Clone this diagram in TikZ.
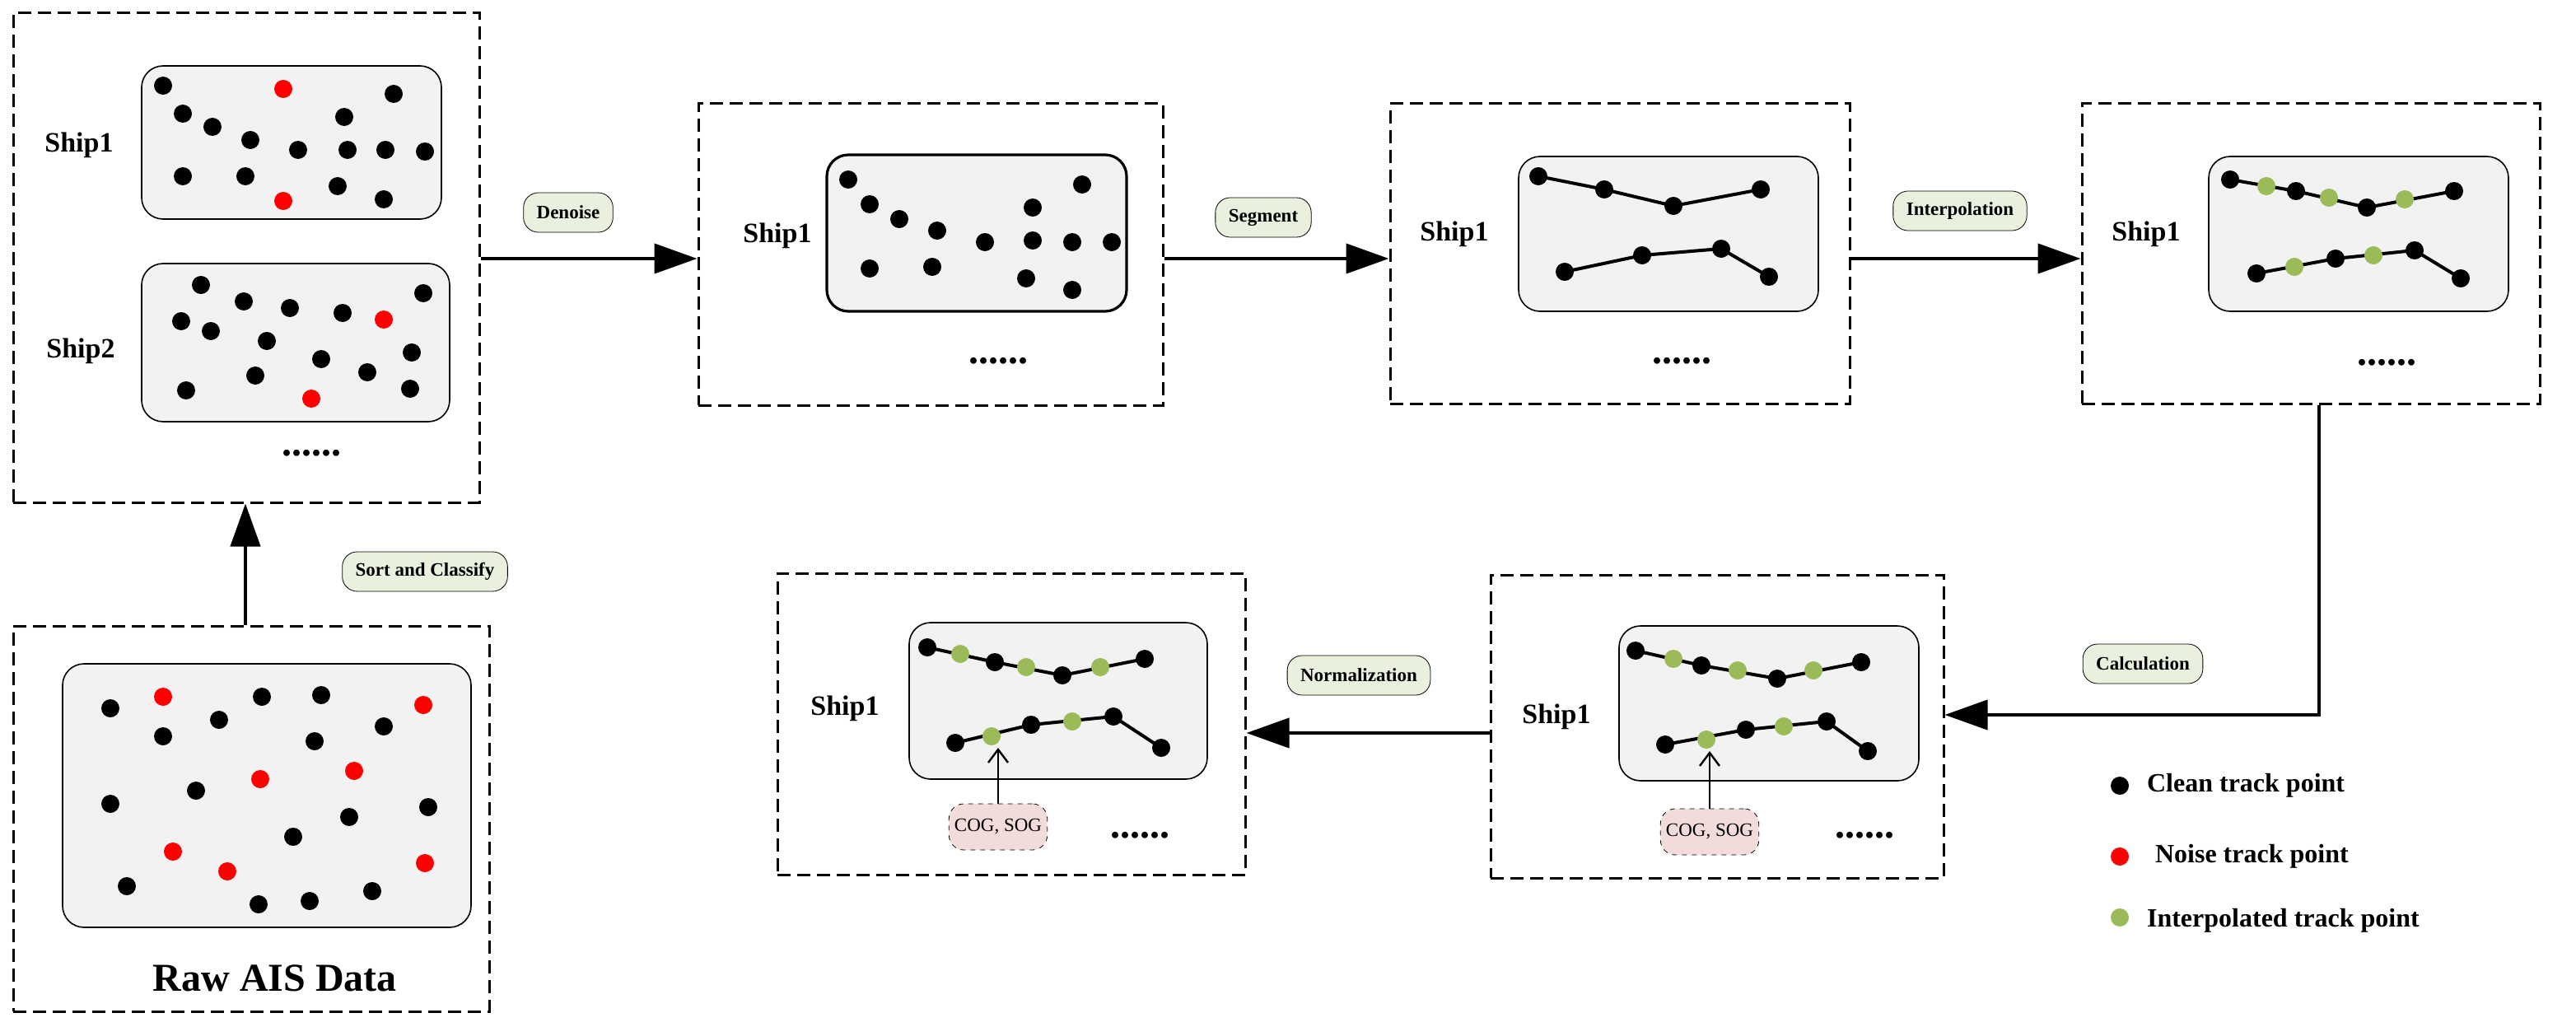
\documentclass[tikz,border=0pt]{standalone}
\usepackage{fontspec}
\setmainfont{Liberation Serif}
\usetikzlibrary{arrows.meta}
\definecolor{lblg}{RGB}{233,240,222}
\definecolor{inner}{RGB}{242,242,242}
\definecolor{gpt}{RGB}{155,187,89}
\definecolor{pinkf}{RGB}{242,220,219}
\begin{document}
\begin{tikzpicture}[x=1pt,y=-1pt,
 dbox/.style={draw,line width=1.5pt,dash pattern=on 8pt off 4pt,minimum width=#1},
 ibox/.style={draw,fill=inner,rounded corners=13pt,line width=0.8pt},
 lbl/.style={draw,fill=lblg,rounded corners=9pt,font=\bfseries\fontsize{11.5}{13}\selectfont,inner xsep=8pt,minimum height=24pt},
 ship/.style={font=\bfseries\fontsize{17}{19}\selectfont,inner sep=0pt},
 bp/.style={fill=black,circle,inner sep=0,minimum size=11pt},
 rp/.style={fill=red,circle,inner sep=0,minimum size=11pt},
 gp/.style={fill=gpt,circle,inner sep=0,minimum size=11pt},
 big/.style={line width=2pt,-{Triangle[length=26pt,width=18pt]}},
 small/.style={line width=1.2pt,-{Straight Barb[length=8pt,width=12pt]}},
 dots/.style={font=\bfseries\fontsize{24}{24}\selectfont},
 cog/.style={draw,fill=pinkf,dashed,rounded corners=9pt,minimum width=56pt,minimum height=28pt,font=\fontsize{11.5}{13}\selectfont},
 leg/.style={anchor=west,font=\bfseries\fontsize{16}{18}\selectfont},
 trk/.style={line width=2pt}]
\fill[white] (0,0) rectangle (1564,623.5);
% Box A
\node[dbox=283pt,minimum height=297pt] (A) at (149.5,156.5) {};
\node[ibox,minimum width=182pt,minimum height=93pt] (A1) at (177,86.5) {};
\node[ibox,minimum width=187pt,minimum height=96pt] (A2) at (179.5,208) {};
\node[ship] (sA1) at (48,88) {Ship1};
\node[ship] (sA2) at (49,213) {Ship2};
\node[dots] (dA) at (189,275) {......};
\foreach \x/\y in {99/52,239/57,111/69,129/77,152/85,209/71,181/91,211/91,234/91,258/92,111/107,149/107,205/113,233/121,
 122/173,148/183,176/187,208/190,257/178,110/195,128/201,162/207,195/218,250/214,155/228,223/226,113/237,249/236}
 \node[bp] at (\x,\y) {};
\foreach \x/\y in {172/54,172/122,233/194,189/242} \node[rp] at (\x,\y) {};
% Box B
\node[dbox=282pt,minimum height=183pt] (B) at (565,154.5) {};
\node[ibox,line width=1.6pt,minimum width=182pt,minimum height=95pt] (B1) at (593,141.5) {};
\node[ship] (sB) at (472,143) {Ship1};
\node[dots] (dB) at (606,219) {......};
\foreach \x/\y in {515/109,528/124,546/133,569/140,598/147,627/146,651/147,675/147,657/112,627/126,528/163,566/162,623/169,651/176}
 \node[bp] at (\x,\y) {};
% Box C
\node[dbox=279pt,minimum height=182pt] (C) at (983.5,154) {};
\node[ibox,minimum width=182pt,minimum height=94pt] (C1) at (1013,142) {};
\node[ship,anchor=west] (sC) at (862,142) {Ship1};
\node[dots] (dC) at (1021,219) {......};
\draw[trk] (934,107)--(974,115)--(1016,125)--(1069,115);
\draw[trk] (950,165)--(997,155)--(1045,151)--(1074,168);
\foreach \x/\y in {934/107,974/115,1016/125,1069/115,950/165,997/155,1045/151,1074/168} \node[bp] at (\x,\y) {};
% Box D
\node[dbox=278pt,minimum height=182pt] (D) at (1403,154) {};
\node[ibox,minimum width=182pt,minimum height=94pt] (D1) at (1432,142) {};
\node[ship,anchor=west] (sD) at (1282,142) {Ship1};
\node[dots] (dD) at (1449,220) {......};
\draw[trk] (1354,109)--(1394,116)--(1437,126)--(1490,116);
\draw[trk] (1370,166)--(1418,157)--(1466,152)--(1494,169);
\foreach \x/\y in {1354/109,1394/116,1437/126,1490/116,1370/166,1418/157,1466/152,1494/169} \node[bp] at (\x,\y) {};
\foreach \x/\y in {1376/113,1414/120,1460/121,1393/162,1441/155} \node[gp] at (\x,\y) {};
% Box E
\node[dbox=275pt,minimum height=184pt] (E) at (1042.5,441) {};
\node[ibox,minimum width=182pt,minimum height=94pt] (E1) at (1074,427) {};
\node[ship,anchor=west] (sE) at (924,435) {Ship1};
\node[dots] (dE) at (1132,507) {......};
\draw[trk] (993,395)--(1033,404)--(1079,412)--(1130,402);
\draw[trk] (1011,452)--(1060,443)--(1109,438)--(1134,456);
\foreach \x/\y in {993/395,1033/404,1079/412,1130/402,1011/452,1060/443,1109/438,1134/456} \node[bp] at (\x,\y) {};
\foreach \x/\y in {1016/400,1055/407,1101/407,1036/449,1083/441} \node[gp] at (\x,\y) {};
\node[cog] (cE) at (1038,505) {COG, SOG};
\coordinate (tE) at (1036,456);
\draw[small] (cE.north) -- (cE.north |- tE);
% Box F
\node[dbox=284pt,minimum height=183pt] (F) at (614,439.5) {};
\node[ibox,minimum width=181pt,minimum height=95pt] (F1) at (642.5,425.5) {};
\node[ship,anchor=west] (sF) at (492,430) {Ship1};
\node[dots] (dF) at (692,507) {......};
\draw[trk] (563,393)--(604,402)--(645,410)--(695,400);
\draw[trk] (580,451)--(626,440)--(676,435)--(705,454);
\foreach \x/\y in {563/393,604/402,645/410,695/400,580/451,626/440,676/435,705/454} \node[bp] at (\x,\y) {};
\foreach \x/\y in {583/397,623/405,668/405,602/447,651/438} \node[gp] at (\x,\y) {};
\node[cog] (cF) at (606,502) {COG, SOG};
\coordinate (tF) at (602,454);
\draw[small] (cF.north) -- (cF.north |- tF);
% Box G
\node[dbox=289pt,minimum height=234pt] (G) at (152.5,497) {};
\node[ibox,minimum width=248pt,minimum height=160pt] (G1) at (162,483) {};
\node[font=\bfseries\fontsize{24}{26}\selectfont] (raw) at (167,594) {Raw AIS Data};
\foreach \x/\y in {67/430,99/447,133/437,159/423,195/422,191/450,233/441,67/488,119/480,178/508,212/496,260/490,77/538,157/549,188/547,226/541}
 \node[bp] at (\x,\y) {};
\foreach \x/\y in {99/423,257/428,158/473,215/468,105/517,138/529,258/524} \node[rp] at (\x,\y) {};
% Arrows and labels
\coordinate (gA) at (149,380);
\draw[big] (G.north -| gA) -- (A.south -| gA);
\node[lbl] (l1) at (258,347) {Sort and Classify};
\coordinate (yAB) at (0,157);
\draw[big] (A.east |- yAB) -- (B.west |- yAB);
\node[lbl] (l2) at (345,129) {Denoise};
\draw[big] (B.east |- yAB) -- (C.west |- yAB);
\node[lbl] (l3) at (767,132) {Segment};
\draw[big] (C.east |- yAB) -- (D.west |- yAB);
\node[lbl] (l4) at (1190,128) {Interpolation};
\coordinate (turn) at (1408,434);
\draw[big] (D.south -| turn) -- (turn) -- (E.east |- turn);
\node[lbl] (l5) at (1301,403) {Calculation};
\coordinate (yEF) at (0,445);
\draw[big] (E.west |- yEF) -- (F.east |- yEF);
\node[lbl] (l6) at (825,410) {Normalization};
% Legend
\node[bp] (k1) at (1287,477) {};
\node[rp] (k2) at (1287,520) {};
\node[gp] (k3) at (1287,557) {};
\node[leg] (t1) at (1300,477) {Clean track point};
\node[leg] (t2) at (1305,520) {Noise track point};
\node[leg] (t3) at (1300,559) {Interpolated track point};
\end{tikzpicture}
\end{document}
